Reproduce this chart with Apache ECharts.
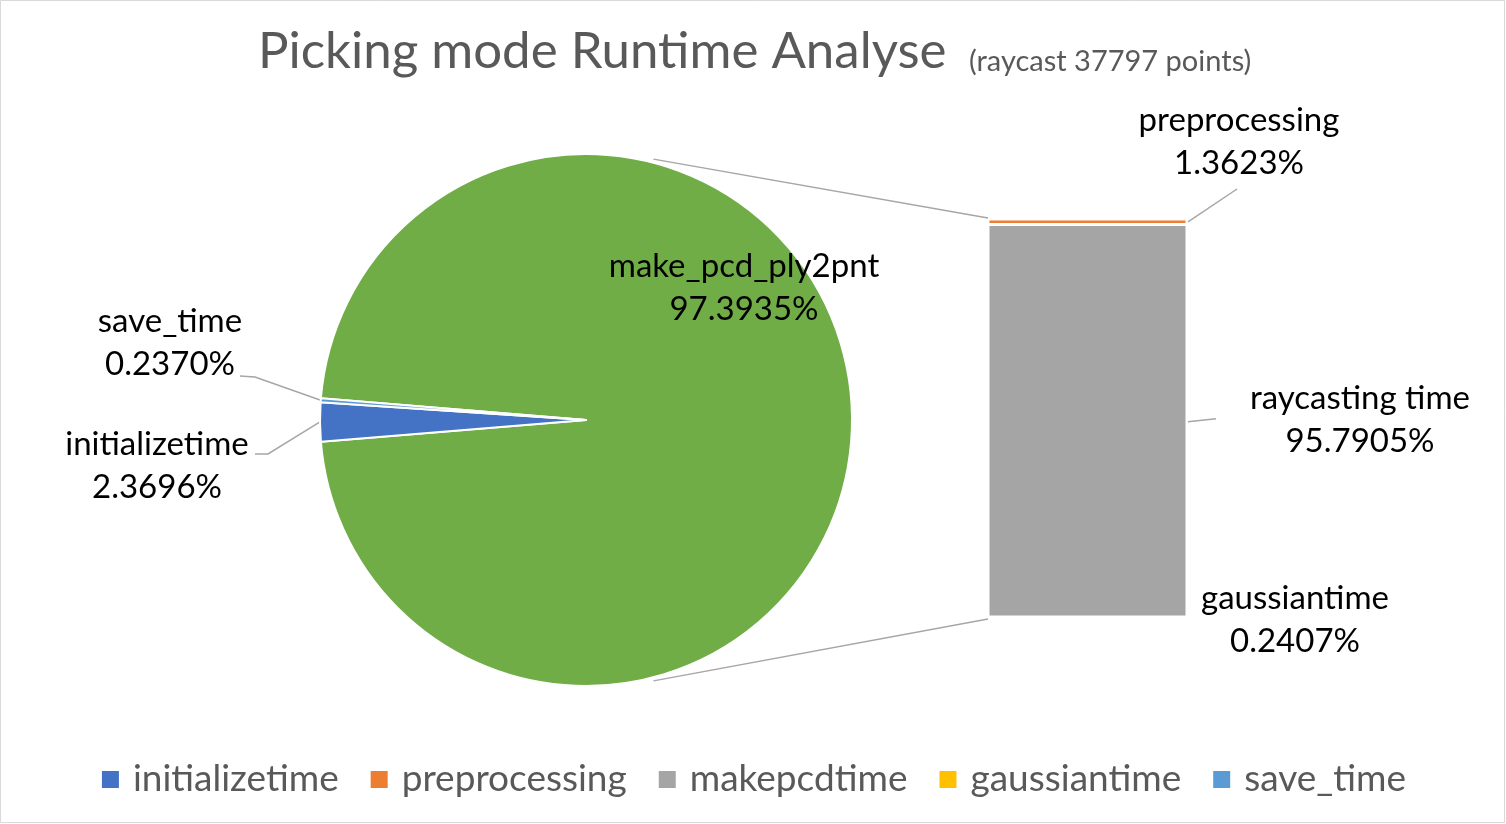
<!DOCTYPE html>
<html><head><meta charset="utf-8">
<script src="https://cdn.jsdelivr.net/npm/echarts@6/dist/echarts.min.js"></script>
<style>html,body{margin:0;padding:0;background:#fff}#c{width:1506px;height:824px}</style>
</head><body><div id="c"></div>
<script>
// ---- data ----
const pieNames = ['make_pcd_ply2pnt', 'initializetime', 'save_time'];
const pieValues = [97.3935, 2.3696, 0.2370];
const barNames = ['gaussiantime', 'makepcdtime', 'preprocessing'];
const barLabels = ['gaussiantime', 'raycasting time', 'preprocessing'];
const barValues = [0.2407, 95.7905, 1.3623];
const legendNames = ['initializetime', 'preprocessing', 'makepcdtime', 'gaussiantime', 'save_time'];
const titleText = 'Picking mode Runtime Analyse';
const subtitleText = '(raycast 37797 points)';

// ---- styles / layout ----
const colors = {
  make_pcd_ply2pnt: '#70AD47', initializetime: '#4472C4', save_time: '#5B9BD5',
  preprocessing: '#ED7D31', makepcdtime: '#A5A5A5', gaussiantime: '#FFC000'
};
const FONT = 'Lato';
const PIE = { cx: 586, cy: 420, r: 266 };
const GRID = { left: 988, top: 219, width: 199, height: 399 };
const pieLabelPos = [[744, 288], [157, 466], [170, 343]];
const barLabelPos = [[1295, 620], [1360, 420], [1239, 142]];

const chart = echarts.init(document.getElementById('c'), null, { renderer: 'canvas' });

const pieTotal = pieValues.reduce((a, b) => a + b, 0);
const smallShare = (pieTotal - pieValues[0]) / pieTotal;
const startAngle = 180 - smallShare * 180;
const barTotal = barValues.reduce((a, b) => a + b, 0);

const labelStyle = { color: '#000', fontFamily: FONT, fontSize: 33, lineHeight: 43 };

const pieSeries = {
  type: 'pie',
  name: 'pie',
  center: [PIE.cx, PIE.cy],
  radius: PIE.r,
  startAngle: startAngle,
  clockwise: true,
  avoidLabelOverlap: false,
  animation: false,
  itemStyle: { borderColor: '#fff', borderWidth: 2 },
  label: Object.assign({ show: true, position: 'outside', formatter: p => p.name + '\n' + p.value.toFixed(4) + '%' }, labelStyle),
  labelLine: { show: true, length: 10, length2: 10, lineStyle: { color: '#A6A6A6', width: 1.5 } },
  labelLayout: function (params) {
    const i = params.dataIndex;
    const pos = pieLabelPos[i];
    const out = { x: pos[0], y: pos[1], align: 'center', verticalAlign: 'middle' };
    if (i > 0 && params.labelLinePoints) {
      const s = params.labelLinePoints[0];
      if (i === 1) out.labelLinePoints = [[s[0], s[1]], [pos[0] + 111, pos[1] - 12], [pos[0] + 98, pos[1] - 12]];
      else out.labelLinePoints = [[s[0], s[1]], [pos[0] + 85, pos[1] + 34], [pos[0] + 70, pos[1] + 33]];
    }
    return out;
  },
  data: pieNames.map((n, i) => ({
    name: n, value: pieValues[i], itemStyle: { color: colors[n] },
    labelLine: { show: i > 0 }
  }))
};

const barSeries = barNames.map((n, i) => ({
  type: 'bar',
  name: n,
  stack: 'other',
  barWidth: '100%',
  animation: false,
  itemStyle: { color: colors[n], borderColor: '#fff', borderWidth: 1.5 },
  label: Object.assign({ show: true, position: 'right', formatter: p => barLabels[i] + '\n' + p.value.toFixed(4) + '%' }, labelStyle),
  labelLayout: { x: barLabelPos[i][0], y: barLabelPos[i][1], align: 'center', verticalAlign: 'middle' },
  data: [barValues[i]]
}));

chart.setOption({
  backgroundColor: '#fff',
  animation: false,
  title: [
    { text: titleText, left: 253, top: 21, textStyle: { fontFamily: FONT, fontSize: 51, fontWeight: 'normal', color: '#595959' } },
    { text: subtitleText, left: 964, top: 42, textStyle: { fontFamily: FONT, fontSize: 29, fontWeight: 'normal', color: '#595959' } }
  ],
  legend: {
    data: legendNames,
    top: 756,
    left: 'center',
    icon: 'rect',
    itemWidth: 19, itemHeight: 19, itemGap: 30,
    textStyle: { fontFamily: FONT, fontSize: 37, color: '#595959', padding: [0, 0, 0, 8] }
  },
  grid: { left: GRID.left, top: GRID.top, width: GRID.width, height: GRID.height },
  xAxis: { type: 'category', data: ['other'], show: false },
  yAxis: { type: 'value', min: 0, max: barTotal, show: false },
  series: [pieSeries].concat(barSeries)
});

// connector lines from pie to bar, and leader lines for bar labels
function drawExtras() {
  const yTop = chart.convertToPixel({ yAxisIndex: 0 }, barTotal);
  const yBot = chart.convertToPixel({ yAxisIndex: 0 }, 0);
  const xL = GRID.left, xR = GRID.left + GRID.width;
  const ang = 75.5 * Math.PI / 180, rr = PIE.r * 1.013;
  const pTop = [PIE.cx + rr * Math.cos(ang), PIE.cy - rr * Math.sin(ang)];
  const pBot = [PIE.cx + rr * Math.cos(ang), PIE.cy + rr * Math.sin(ang)];
  const yPre = chart.convertToPixel({ yAxisIndex: 0 }, barTotal - barValues[2] / 2);
  const yRay = chart.convertToPixel({ yAxisIndex: 0 }, barValues[0] + barValues[1] / 2);
  const ls = { stroke: '#A6A6A6', lineWidth: 1.5 };
  chart.setOption({
    graphic: [
      { type: 'rect', shape: { x: 0.5, y: 0.5, width: 1504, height: 822 }, style: { fill: 'none', stroke: '#D9D9D9', lineWidth: 1 }, silent: true },
      { type: 'line', shape: { x1: pTop[0], y1: pTop[1], x2: xL, y2: yTop - 1 }, style: ls, silent: true },
      { type: 'line', shape: { x1: pBot[0], y1: pBot[1], x2: xL, y2: yBot + 1 }, style: ls, silent: true },
      { type: 'line', shape: { x1: xR + 1, y1: yPre, x2: xR + 50, y2: yTop - 30 }, style: ls, silent: true },
      { type: 'line', shape: { x1: xR + 1, y1: yRay + 1, x2: xR + 29, y2: yRay - 2 }, style: ls, silent: true }
    ]
  });
}
drawExtras();
</script>
</body></html>
